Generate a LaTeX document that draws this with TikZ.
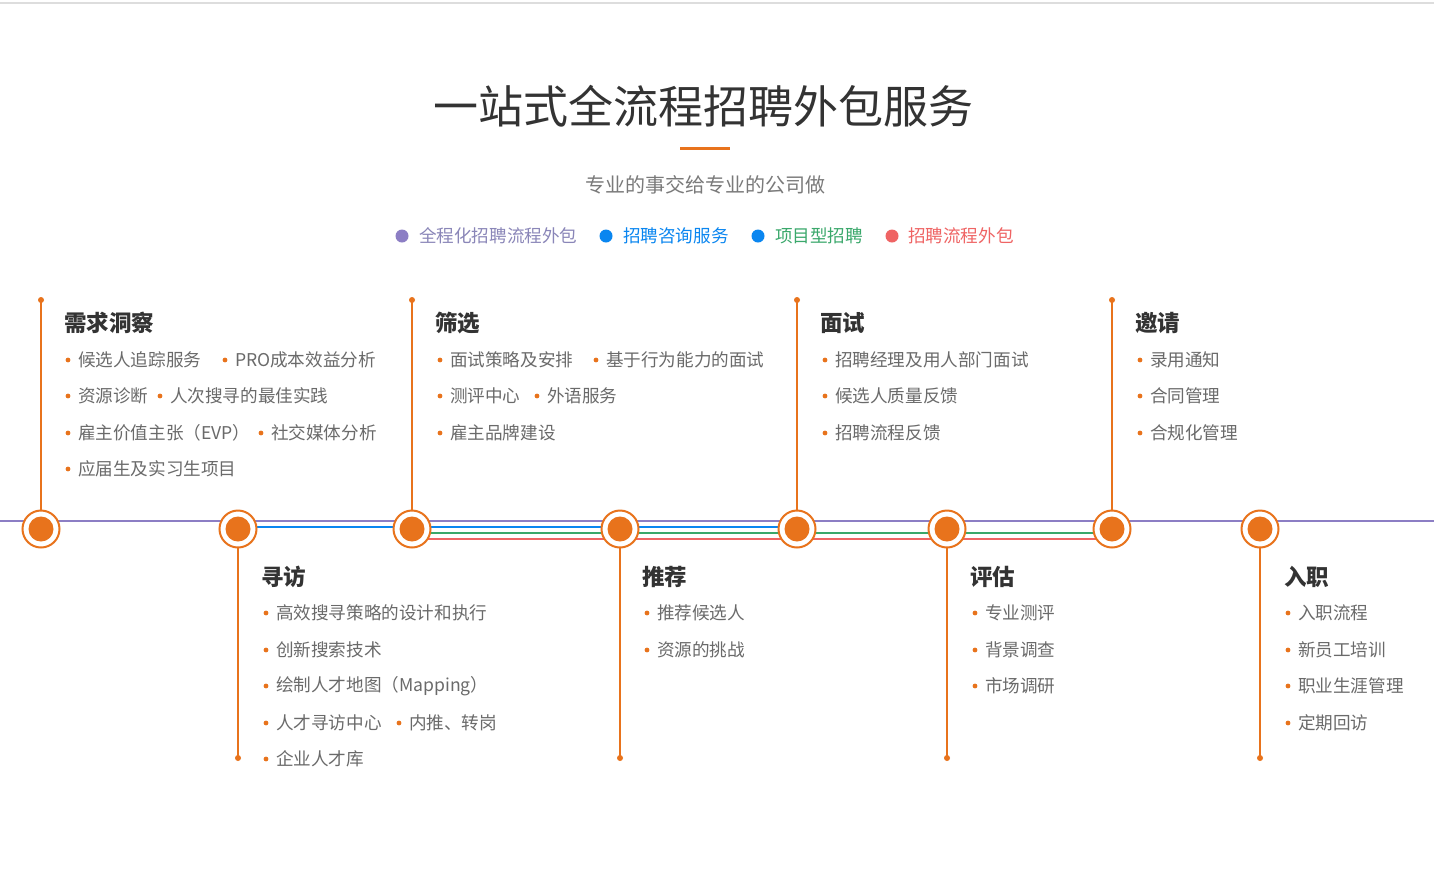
\documentclass[tikz,border=0pt]{standalone}
\usepackage{fontspec}
\setmainfont{Noto Sans CJK SC}
\definecolor{acc}{HTML}{E8731C}
\definecolor{tcol}{HTML}{333333}
\definecolor{icol}{HTML}{6A6A6A}
\definecolor{subc}{HTML}{7A7A7A}
\definecolor{purp}{HTML}{8C7EC4}
\definecolor{purt}{HTML}{8A86B8}
\definecolor{blu}{HTML}{0A86F0}
\definecolor{grn}{HTML}{3AA86B}
\definecolor{red1}{HTML}{EF6464}
\definecolor{topg}{HTML}{DDDDDD}
\newcommand\itm[4]{\fill[acc] (#2,#3) circle (2.4);
  \node[item] (#1) at (#2+10,#3) {#4};}
\begin{document}
\begin{tikzpicture}[x=1pt,y=-1pt,
  every node/.style={inner sep=0pt, outer sep=0pt},
  ttl/.style={font=\fontsize{22.5}{26}\selectfont\bfseries, text=tcol, anchor=west},
  item/.style={font=\fontsize{17.6}{21}\selectfont, text=icol, anchor=west},
  leg/.style={font=\fontsize{17.6}{21}\selectfont, anchor=west},
  ring/.style={circle, draw=acc, line width=2pt, fill=white, minimum size=37pt},
  core/.style={circle, fill=acc, minimum size=25pt},
  stem/.style={draw=acc, line width=2pt},
  tipdot/.style={circle, fill=acc, minimum size=6pt},
  hline/.style={line width=2pt}]
\useasboundingbox (0,0) rectangle (1434,879);
\fill[white] (0,0) rectangle (1434,879);
\draw[topg, line width=1.5pt] (0,3) -- (1434,3);
% title
\node[font=\fontsize{45}{50}\selectfont, text=tcol] (title) at (703,106) {一站式全流程招聘外包服务};
\fill[acc] (680,146.5) rectangle (730,149.5);
\node[font=\fontsize{20}{24}\selectfont, text=subc] (sub) at (705,185) {专业的事交给专业的公司做};
% legend
\fill[purp] (402,236) circle (6.5);
\node[leg, text=purt] (lg1) at (419,236) {全程化招聘流程外包};
\fill[blu] (606,236) circle (6.5);
\node[leg, text=blu] (lg2) at (623,236) {招聘咨询服务};
\fill[blu] (758,236) circle (6.5);
\node[leg, text=grn] (lg3) at (775,236) {项目型招聘};
\fill[red1] (892,236) circle (6.5);
\node[leg, text=red1] (lg4) at (908,236) {招聘流程外包};
% timeline coordinates
\coordinate (p1) at (41,529);
\coordinate (p2) at (238,529);
\coordinate (p3) at (412,529);
\coordinate (p4) at (620,529);
\coordinate (p5) at (797,529);
\coordinate (p6) at (947,529);
\coordinate (p7) at (1112,529);
\coordinate (p8) at (1260,529);
\coordinate (L) at (0,521);
\coordinate (R) at (1434,521);
\draw[hline, purp] (L) -- (R);
\draw[hline, blu] ([yshift=2pt]p2) -- ([yshift=2pt]p5);
\draw[hline, grn] ([yshift=-4pt]p3) -- ([yshift=-4pt]p7);
\draw[hline, red1] ([yshift=-10pt]p3) -- ([yshift=-10pt]p7);
% stems
\foreach \i in {1,3,5,7} {
  \node[tipdot] (d\i) at ([yshift=229pt]p\i) {};
  \draw[stem] (d\i.center) -- (p\i);
}
\foreach \i in {2,4,6,8} {
  \node[tipdot] (d\i) at ([yshift=-229pt]p\i) {};
  \draw[stem] (p\i) -- (d\i.center);
}
\foreach \i in {1,...,8} {
  \node[ring] (n\i) at (p\i) {};
  \node[core] (c\i) at (p\i) {};
}
% block 1
\node[ttl] (h1) at (64,323) {需求洞察};
\itm{a1}{68}{360}{候选人追踪服务}
\itm{a2}{225}{360}{PRO成本效益分析}
\itm{a3}{68}{396}{资源诊断}
\itm{a4}{160}{396}{人次搜寻的最佳实践}
\itm{a5}{68}{433}{雇主价值主张（EVP）}
\itm{a6}{261}{433}{社交媒体分析}
\itm{a7}{68}{469}{应届生及实习生项目}
% block 3
\node[ttl] (h3) at (435,323) {筛选};
\itm{b1}{440}{360}{面试策略及安排}
\itm{b2}{596}{360}{基于行为能力的面试}
\itm{b3}{440}{396}{测评中心}
\itm{b4}{537}{396}{外语服务}
\itm{b5}{440}{433}{雇主品牌建设}
% block 5
\node[ttl] (h5) at (820,323) {面试};
\itm{e1}{825}{360}{招聘经理及用人部门面试}
\itm{e2}{825}{396}{候选人质量反馈}
\itm{e3}{825}{433}{招聘流程反馈}
% block 7
\node[ttl] (h7) at (1135,323) {邀请};
\itm{g1}{1140}{360}{录用通知}
\itm{g2}{1140}{396}{合同管理}
\itm{g3}{1140}{433}{合规化管理}
% block 2
\node[ttl] (h2) at (261,577) {寻访};
\itm{k1}{266}{613}{高效搜寻策略的设计和执行}
\itm{k2}{266}{650}{创新搜索技术}
\itm{k3}{266}{686}{绘制人才地图（Mapping）}
\itm{k4}{266}{723}{人才寻访中心}
\itm{k5}{399}{723}{内推、转岗}
\itm{k6}{266}{759}{企业人才库}
% block 4
\node[ttl] (h4) at (642,577) {推荐};
\itm{m1}{647}{613}{推荐候选人}
\itm{m2}{647}{650}{资源的挑战}
% block 6
\node[ttl] (h6) at (970,577) {评估};
\itm{q1}{975}{613}{专业测评}
\itm{q2}{975}{650}{背景调查}
\itm{q3}{975}{686}{市场调研}
% block 8
\node[ttl] (h8) at (1284,577) {入职};
\itm{r1}{1288}{613}{入职流程}
\itm{r2}{1288}{650}{新员工培训}
\itm{r3}{1288}{686}{职业生涯管理}
\itm{r4}{1288}{723}{定期回访}
\end{tikzpicture}
\end{document}
